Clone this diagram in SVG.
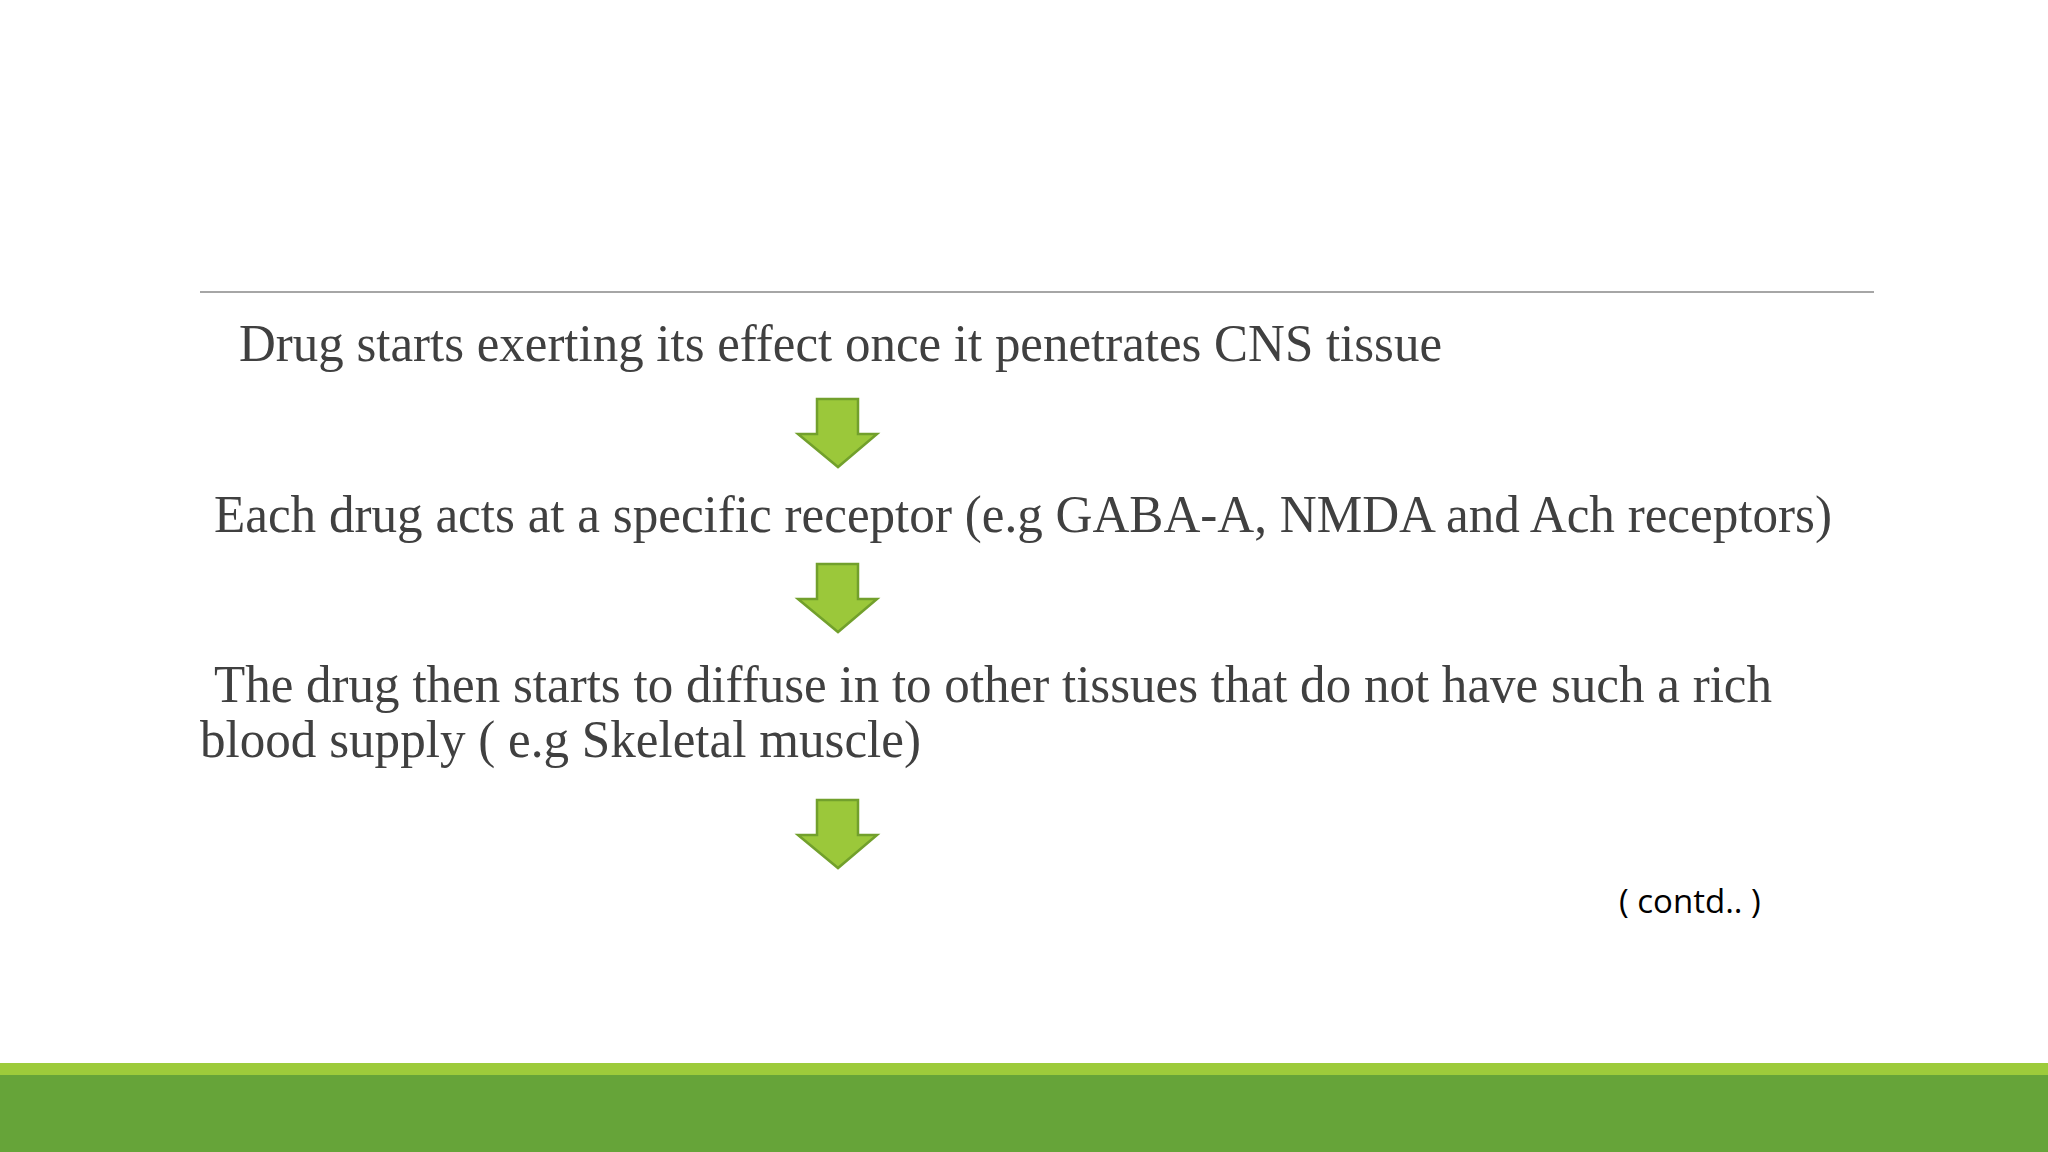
<svg xmlns="http://www.w3.org/2000/svg" width="2048" height="1152" viewBox="0 0 2048 1152">
  <style>
    .t { font-family: "Liberation Serif", "Times New Roman", serif; font-size: 52px; fill: #404040; }
    .c { font-family: "Open Sans", "Noto Sans", sans-serif; font-size: 33px; fill: #000000; }
    .arrow { fill: #9BC83A; stroke: #72A02C; stroke-width: 2.5; stroke-linejoin: miter; }
  </style>
  <defs>
    <polygon id="downArrow" points="817,399 858,399 858,434 877,434 838,467 798,434 817,434"/>
  </defs>
  <rect x="0" y="0" width="2048" height="1152" fill="#FFFFFF"/>
  <line x1="200" y1="292" x2="1874" y2="292" stroke="#A6A6A6" stroke-width="2"/>

  <g id="node1"><text class="t" x="239" y="361" textLength="1203" lengthAdjust="spacingAndGlyphs">Drug starts exerting its effect once it penetrates CNS tissue</text></g>
  <g id="node2"><text class="t" x="214" y="532" textLength="1618" lengthAdjust="spacingAndGlyphs">Each drug acts at a specific receptor (e.g GABA-A, NMDA and Ach receptors)</text></g>
  <g id="node3">
    <text class="t" x="214" y="702" textLength="1558" lengthAdjust="spacingAndGlyphs">The drug then starts to diffuse in to other tissues that do not have such a rich</text>
    <text class="t" x="200" y="757" textLength="721" lengthAdjust="spacingAndGlyphs">blood supply ( e.g Skeletal muscle)</text>
  </g>
  <g id="node4"><text class="c" x="1619" y="913">( contd.. )</text></g>

  <g id="connectors">
    <use href="#downArrow" class="arrow"/>
    <use href="#downArrow" class="arrow" transform="translate(0,165)"/>
    <use href="#downArrow" class="arrow" transform="translate(0,401)"/>
  </g>

  <rect x="0" y="1063" width="2048" height="12" fill="#9DCB3B"/>
  <rect x="0" y="1075" width="2048" height="77" fill="#66A439"/>
</svg>
